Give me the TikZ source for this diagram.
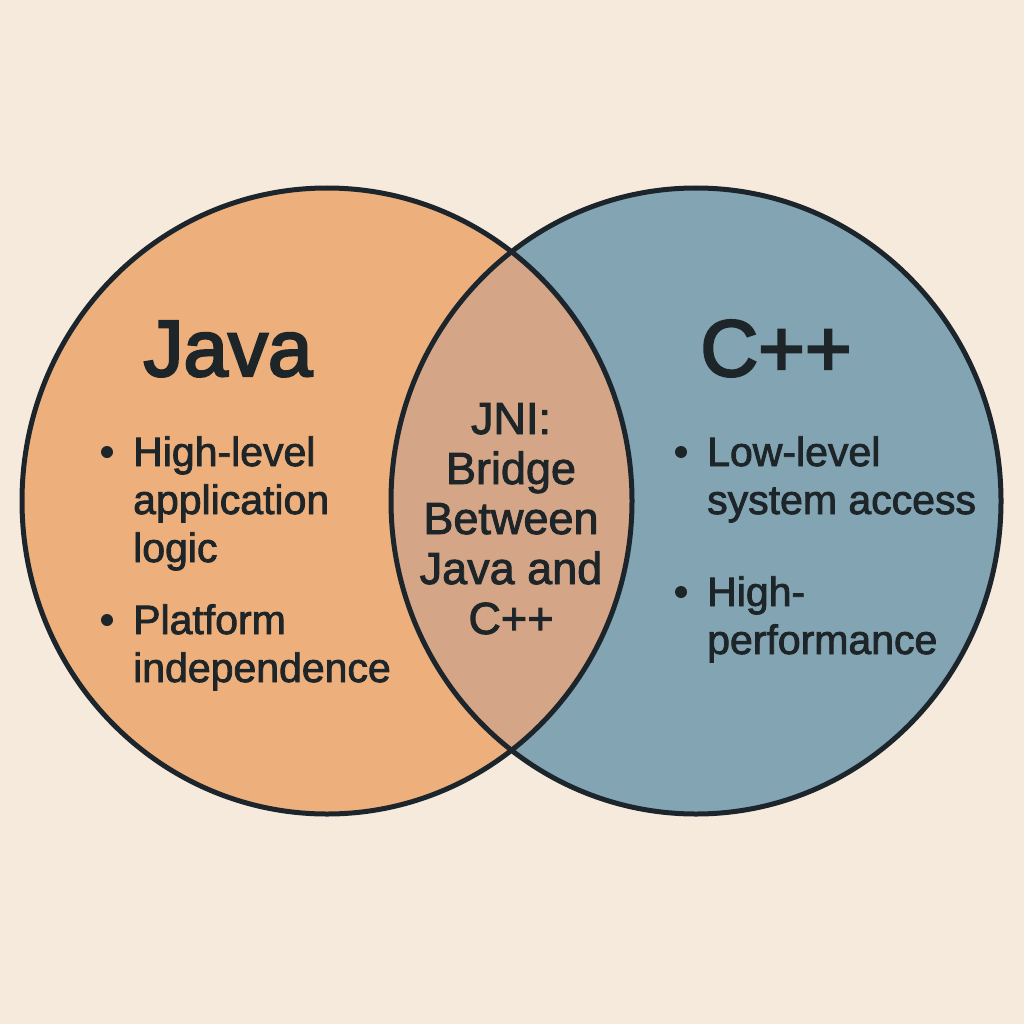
\documentclass[tikz,border=0pt]{standalone}
\usepackage{fontspec}
\setmainfont{Liberation Sans}
\newfontfamily\bodyfont[FakeBold=2]{Liberation Sans}
\newfontfamily\titlefont[FakeBold=3]{Liberation Sans}
\definecolor{bgc}{HTML}{F6EADC}
\definecolor{orangec}{HTML}{EDB07C}
\definecolor{bluec}{HTML}{82A4B3}
\definecolor{lensc}{HTML}{D4A687}
\definecolor{linec}{HTML}{1C252B}
\definecolor{textc}{HTML}{1E2529}
\tikzset{
  title/.style={inner sep=0pt, anchor=base, text=textc, font=\titlefont\fontsize{80}{80}\selectfont},
  body/.style={inner sep=0pt, anchor=base west, text=textc, font=\bodyfont\fontsize{41}{48}\selectfont},
  mid/.style={inner sep=0pt, anchor=base, text=textc, font=\bodyfont\fontsize{45}{50}\selectfont},
  dot/.style={circle, fill=textc, inner sep=0pt, minimum size=12pt},
  ring/.style={draw=linec, line width=5pt}
}
\begin{document}
\begin{tikzpicture}[x=1pt,y=-1pt]
\fill[bgc] (0,0) rectangle (1024,1024);
\useasboundingbox (0,0) rectangle (1024,1024);
% circles
\fill[orangec] (327,501) ellipse [x radius=305pt, y radius=313pt];
\fill[bluec] (696,501) ellipse [x radius=305pt, y radius=313pt];
\begin{scope}
  \clip (327,501) ellipse [x radius=305pt, y radius=313pt];
  \fill[lensc] (696,501) ellipse [x radius=305pt, y radius=313pt];
\end{scope}
\draw[ring] (327,501) ellipse [x radius=305pt, y radius=313pt];
\draw[ring] (696,501) ellipse [x radius=305pt, y radius=313pt];
% titles
\node[title] (java) at (228,376) {Java};
\node[title] (cpp) at (776,376) {C++};
% left bullets
\node[dot] (bl1) at (107,452) {};
\node[body] (l1) at (133,466) {High-level};
\node[body] (l2) at (133,514) {application};
\node[body] (l3) at (133,562) {logic};
\node[dot] (bl2) at (107,620) {};
\node[body] (l4) at (133,634) {Platform};
\node[body] (l5) at (133,682) {independence};
% middle
\node[mid] (j1) at (511,434) {JNI:};
\node[mid] (j2) at (511,484) {Bridge};
\node[mid] (j3) at (511,534) {Between};
\node[mid] (j4) at (511,584) {Java and};
\node[mid] (j5) at (511,634) {C++};
% right bullets
\node[dot] (br1) at (681,452) {};
\node[body] (r1) at (707,466) {Low-level};
\node[body] (r2) at (707,514) {system access};
\node[dot] (br2) at (681,592) {};
\node[body] (r3) at (707,606) {High-};
\node[body] (r4) at (707,654) {performance};
\end{tikzpicture}
\end{document}
